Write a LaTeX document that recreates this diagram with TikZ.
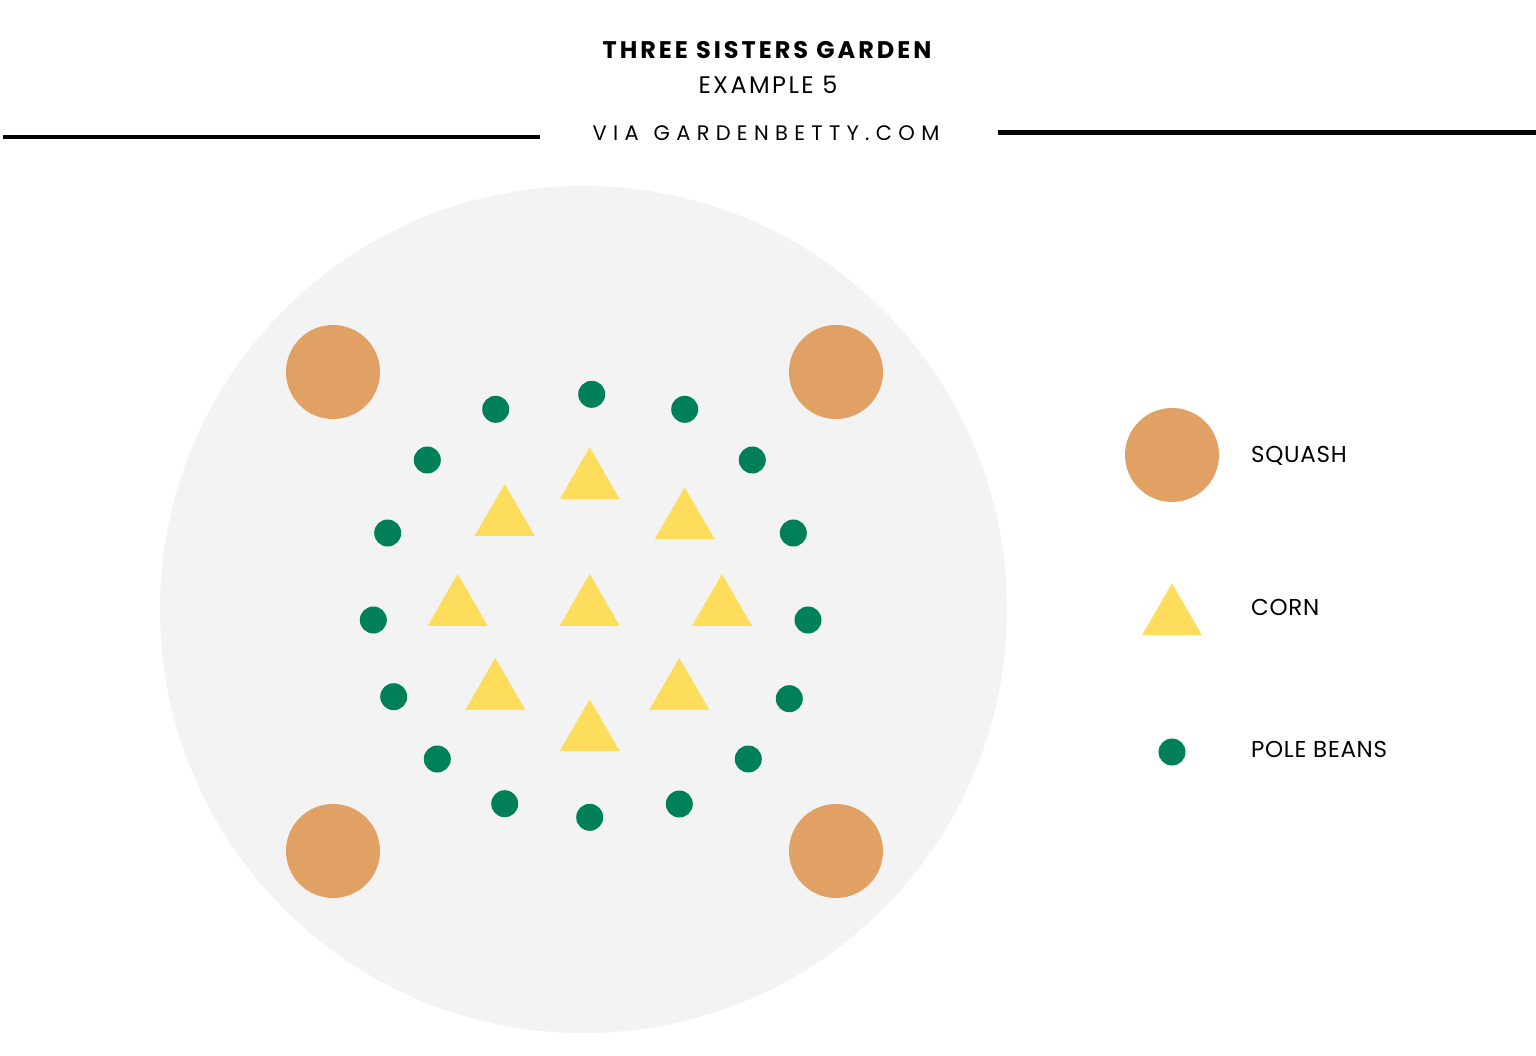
\documentclass[tikz,border=0pt]{standalone}
\usepackage{fontspec}
\setmainfont{Poppins}
\newfontfamily\spacedfont[LetterSpace=30]{Poppins}
\newfontfamily\titlefont[LetterSpace=12.5]{Poppins}
\newfontfamily\subfont[LetterSpace=10]{Poppins}
\newfontfamily\keyfont[LetterSpace=3]{Poppins}
\usetikzlibrary{shapes.geometric}
\definecolor{squashOrange}{RGB}{225, 161, 101}
\definecolor{cornYellow}{RGB}{255, 221, 92}
\definecolor{beanGreen}{RGB}{0, 128, 88}
\definecolor{bedGrey}{RGB}{243, 243, 243}
\tikzset{
    squash/.style={circle, fill=squashOrange, minimum size=94pt, inner sep=0pt},
    corn/.style={regular polygon, regular polygon sides=3, fill=cornYellow, minimum size=69.3pt, inner sep=0pt},
    bean/.style={circle, fill=beanGreen, minimum size=27pt, inner sep=0pt},
    label/.style={anchor=base west, inner sep=0pt, font=\fontsize{23}{26}\selectfont\keyfont},
    rule/.style={line width=4.5pt, black}
}
\begin{document}
\begin{tikzpicture}[x=1pt, y=-1pt]

    \useasboundingbox[fill=white] (0,0) rectangle (1536,1056);

    % Heading
    \node (title) [anchor=base, font=\fontsize{24}{28}\selectfont\titlefont\bfseries] at (767,59) {THREE SISTERS GARDEN};
    \node (example) [anchor=base, font=\fontsize{24}{28}\selectfont\subfont] at (768,94) {EXAMPLE 5};
    \node (source) [anchor=base, font=\fontsize{21}{24}\selectfont\spacedfont] at (766,140.7) {VIA\hspace{3pt} GARDENBETTY.COM};
    \draw [rule] (3,137) -- (540,137);
    \draw [rule] (998,132.5) -- (1536,132.5);

    % Garden bed
    \node (bed) [circle, fill=bedGrey, minimum size=847pt, inner sep=0pt] at (583.5,609.5) {};

    % Squash
    \node (squashNW) [squash] at (333,372) {};
    \node (squashNE) [squash] at (836,372) {};
    \node (squashSW) [squash] at (333,851) {};
    \node (squashSE) [squash] at (836,851) {};

    % Corn
    \node (cornA) [corn] at (589.7,481.9) {};
    \node (cornB) [corn] at (504.7,518.6) {};
    \node (cornC) [corn] at (684.7,521.9) {};
    \node (cornD) [corn] at (457.7,608.6) {};
    \node (cornE) [corn] at (589.7,608.6) {};
    \node (cornF) [corn] at (722,608.6) {};
    \node (cornG) [corn] at (495.3,692.6) {};
    \node (cornH) [corn] at (679.3,692.6) {};
    \node (cornI) [corn] at (589.7,733.9) {};

    % Pole beans
    \node (bean1) [bean] at (591.7,394.3) {};
    \node (bean2) [bean] at (684.7,409.3) {};
    \node (bean3) [bean] at (752.3,460) {};
    \node (bean4) [bean] at (793.3,533) {};
    \node (bean5) [bean] at (808,620) {};
    \node (bean6) [bean] at (789.3,698.7) {};
    \node (bean7) [bean] at (748.3,759) {};
    \node (bean8) [bean] at (679.3,804) {};
    \node (bean9) [bean] at (589.7,817.3) {};
    \node (bean10) [bean] at (504.7,803.7) {};
    \node (bean11) [bean] at (437.3,759) {};
    \node (bean12) [bean] at (393.7,696.7) {};
    \node (bean13) [bean] at (373.3,620) {};
    \node (bean14) [bean] at (387.7,533) {};
    \node (bean15) [bean] at (427.3,460) {};
    \node (bean16) [bean] at (495.7,409.3) {};

    % Legend
    \node (keySquash) [squash] at (1172,455) {};
    \node (keyCorn) [corn] at (1172,618) {};
    \node (keyBean) [bean] at (1172,752) {};
    \node (txtSquash) [label] at (1251,462.3) {SQUASH};
    \node (txtCorn) [label] at (1251,615) {CORN};
    \node (txtBean) [label] at (1251,757.3) {POLE BEANS};

\end{tikzpicture}
\end{document}
